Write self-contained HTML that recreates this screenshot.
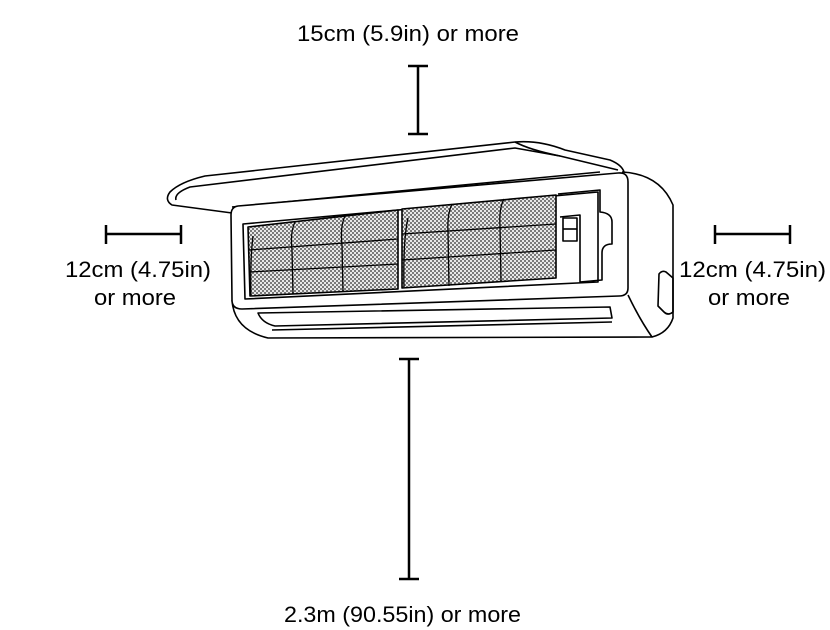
<!DOCTYPE html>
<html><head><meta charset="utf-8"><style>
html,body{margin:0;padding:0;background:#fff;}
svg{display:block;}
text{font-family:"Liberation Sans",Arial,sans-serif;font-size:22px;fill:#000;}
</style></head><body>
<svg width="830" height="630" viewBox="0 0 830 630" xmlns="http://www.w3.org/2000/svg">
<defs>
<pattern id="chk" width="4" height="4" patternUnits="userSpaceOnUse">
<rect width="4" height="4" fill="#e8e8e8"/>
<rect width="2" height="2" fill="#7a7a7a"/><rect x="2" y="2" width="2" height="2" fill="#7a7a7a"/>
</pattern>
</defs>
<!-- dimension bars -->
<g stroke="#000" stroke-width="2.5" fill="none">
<line x1="418" y1="66" x2="418" y2="134"/><line x1="408" y1="66" x2="428" y2="66"/><line x1="408" y1="134" x2="428" y2="134"/>
<line x1="106" y1="234" x2="181" y2="234"/><line x1="106" y1="225" x2="106" y2="244"/><line x1="181" y1="225" x2="181" y2="244"/>
<line x1="715" y1="234" x2="790" y2="234"/><line x1="715" y1="225" x2="715" y2="244"/><line x1="790" y1="225" x2="790" y2="244"/>
<line x1="409" y1="359" x2="409" y2="579"/><line x1="399" y1="359" x2="419" y2="359"/><line x1="399" y1="579" x2="419" y2="579"/>
</g>
<text x="297" y="41" textLength="222" lengthAdjust="spacingAndGlyphs">15cm (5.9in) or more</text>
<text x="65" y="277" textLength="146" lengthAdjust="spacingAndGlyphs">12cm (4.75in)</text>
<text x="94" y="305" textLength="82" lengthAdjust="spacingAndGlyphs">or more</text>
<text x="679" y="277" textLength="147" lengthAdjust="spacingAndGlyphs">12cm (4.75in)</text>
<text x="708" y="305" textLength="82" lengthAdjust="spacingAndGlyphs">or more</text>
<text x="284" y="622" textLength="237" lengthAdjust="spacingAndGlyphs">2.3m (90.55in) or more</text>
<!-- AC unit -->
<g stroke="#000" stroke-width="1.6" fill="none" stroke-linejoin="round">
<!-- lid -->
<path d="M232,213 L172,205 Q164,200 170,192 Q180,182 205,176 L515,142 Q540,140 565,150 L610,160 Q622,165 624,172" fill="#fff"/>
<path d="M176,200 Q174,193 190,187 L515,148 L560,156 L618,170"/>
<path d="M232,207 L600,172"/>
<path d="M515,142 Q530,150 560,156"/>
<!-- side -->
<path d="M622,172 Q660,174 673,205 L673,318 Q668,333 652,337" fill="#fff"/>
<!-- lower body -->
<path d="M232,300 Q234,330 268,338 L652,337 Q640,320 628,295" fill="#fff"/>
<!-- louver -->
<path d="M258,313 Q262,323 275,326 L612,318 L610,307 Z" fill="#fff"/>
<path d="M272,330 L612,322"/>
<!-- front face -->
<path d="M238,206 L618,173 Q628,172 628,182 L628,288 Q628,296 619,296 L242,309 Q232,309 232,300 L231,215 Q231,207 238,206 Z" fill="#fff"/>
<!-- inner frame -->
<path d="M243,224 L598,192 L598,282 L245,299 Z"/>
<!-- filters -->
<path d="M248,227 L398,210 L398,289 L250,296 Z" fill="url(#chk)"/>
<path d="M402,209 L556,195 L556,278 L402,288 Z" fill="url(#chk)"/>
<g stroke-width="1.3">
<path d="M249,250 L398,239"/><path d="M249,272 L398,264"/>
<path d="M295,222 Q290,232 292,250 L293,294"/><path d="M345,216 Q340,226 342,245 L343,292"/>
<path d="M402,234 L556,224"/><path d="M402,260 L556,250"/>
<path d="M452,204 Q447,214 448,232 L449,286"/><path d="M504,199 Q499,208 500,226 L501,282"/>
<path d="M253,236 Q250,260 251,295"/><path d="M408,218 Q403,240 404,287"/>
</g>
<!-- right panel -->
<path d="M558,194 L600,190 L600,212 Q612,213 612,222 L612,244 Q602,244 602,253 L602,280 L580,282 L580,215 L560,217"/>
<rect x="563" y="218" width="14" height="23"/><line x1="563" y1="229" x2="577" y2="229"/>
<!-- side vent -->
<path d="M659,274 Q662,270 666,272 L673,278 L673,312 Q668,316 664,312 L658,306 Z"/>
</g>
</svg>
</body></html>
